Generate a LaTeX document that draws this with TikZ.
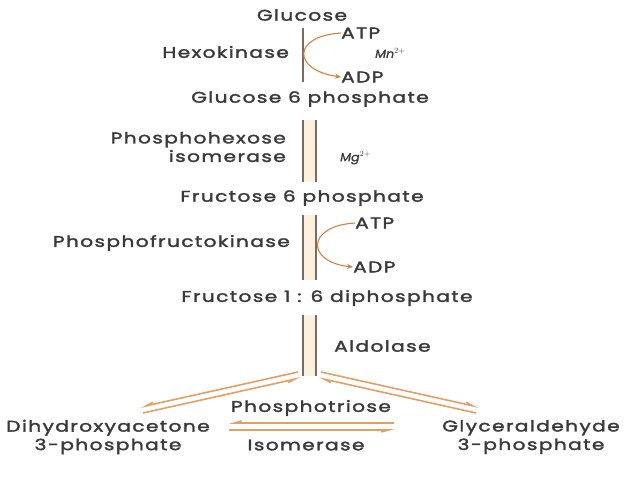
\documentclass[tikz,border=0pt]{standalone}
\usepackage{fontspec}
\setmainfont{Poppins}[FakeStretch=1.3,LetterSpace=9,FakeBold=2]
\newfontfamily\supfont{Poppins}[FakeStretch=1.1,FakeBold=1.2]
\usetikzlibrary{arrows.meta,calc}
\definecolor{txt}{HTML}{3A3A3A}
\definecolor{vline}{HTML}{7D6B5D}
\definecolor{peach}{HTML}{FDF0DE}
\definecolor{org}{HTML}{D4823E}
\definecolor{lorg}{HTML}{E3A062}
\begin{document}
\begin{tikzpicture}[x=1pt,y=-1pt,
  lbl/.style={text=txt,font=\fontsize{15.5}{18.5}\selectfont,inner sep=0pt},
  small/.style={text=txt,font=\supfont\fontsize{11.5}{13}\selectfont\itshape,inner sep=0pt},
  pairline/.style={draw=vline,line width=1.3pt},
  curv/.style={draw=org,line width=1.1pt,-{Stealth[length=6pt,width=5pt]}},
  brl/.style={draw=lorg,line width=1.6pt},
]
\useasboundingbox (0,0) rectangle (638,478);
\fill[white] (0,0) rectangle (638,478);
% texts
\node[lbl] (glc) at (302,15) {Glucose};
\node[lbl,anchor=east] (hk) at (289,52) {Hexokinase};
\node[lbl,anchor=west] (atpa) at (341,33) {ATP};
\node[small,anchor=west] (mn) at (375,53) {Mn$^{2+}$};
\node[lbl,anchor=west] (adpa) at (341,77) {ADP};
\node[lbl] (g6p) at (310,99) {Glucose 6 phosphate};
\node[lbl,anchor=east,align=right] (phi) at (286,147) {Phosphohexose\\isomerase};
\node[small,anchor=west] (mg) at (340,158) {Mg$^{2+}$};
\node[lbl] (f6p) at (302,198) {Fructose 6 phosphate};
\node[lbl,anchor=east] (pfk) at (290,243) {Phosphofructokinase};
\node[lbl,anchor=west] (atpb) at (355,223) {ATP};
\node[lbl,anchor=west] (adpb) at (353,267) {ADP};
\node[lbl] (fdp) at (327,298) {Fructose 1 : 6 diphosphate};
\node[lbl,anchor=west] (ald) at (334,346) {Aldolase};
\node[lbl,align=center] (dhap) at (108,437) {Dihydroxyacetone\\3-phosphate};
\node[lbl,align=center] (gap) at (531,437) {Glyceraldehyde\\3-phosphate};
\node[lbl] (pt) at (311,408) {Phosphotriose};
\node[lbl] (iso) at (306,445) {Isomerase};
% coordinates
\coordinate (h1) at (303,28); \coordinate (h2) at (303,82);
\coordinate (a1) at (303,120); \coordinate (a2) at (303,182);
\coordinate (b1) at (316,120); \coordinate (b2) at (316,182);
\coordinate (c1) at (303,215); \coordinate (c2) at (303,280);
\coordinate (d1) at (316,215); \coordinate (d2) at (316,280);
\coordinate (e1) at (303,315); \coordinate (e2) at (303,376);
\coordinate (f1) at (316,315); \coordinate (f2) at (316,376);
% fills
\fill[peach] (a1) rectangle (b2);
\fill[peach] (c1) rectangle (d2);
\fill[peach] (e1) rectangle (f2);
% vertical lines
\draw[pairline] (h1) -- (h2);
\draw[pairline] (a1) -- (a2); \draw[pairline] (b1) -- (b2);
\draw[pairline] (c1) -- (c2); \draw[pairline] (d1) -- (d2);
\draw[pairline] (e1) -- (e2); \draw[pairline] (f1) -- (f2);
% curves
\draw[curv] (atpa.west) .. controls (292,36) and (292,70) .. (adpa.west);
\draw[curv] (atpb.west) .. controls (306,226) and (306,262) .. (adpb.west);
% branches
\draw[brl,-{Straight Barb[right,length=7pt,width=4pt]}] (298,372) -- (141,407);
\draw[brl,-{Straight Barb[right,length=7pt,width=4pt]}] (143,413) -- (300,378);
\draw[brl,-{Straight Barb[left,length=7pt,width=4pt]}] (321,372) -- (478,407);
\draw[brl,-{Straight Barb[left,length=7pt,width=4pt]}] (476,413) -- (319,378);
\draw[brl,-{Straight Barb[right,length=7pt,width=4pt]}] (394,423) -- (229,423);
\draw[brl,-{Straight Barb[right,length=7pt,width=4pt]}] (229,430) -- (394,430);
\end{tikzpicture}
\end{document}
